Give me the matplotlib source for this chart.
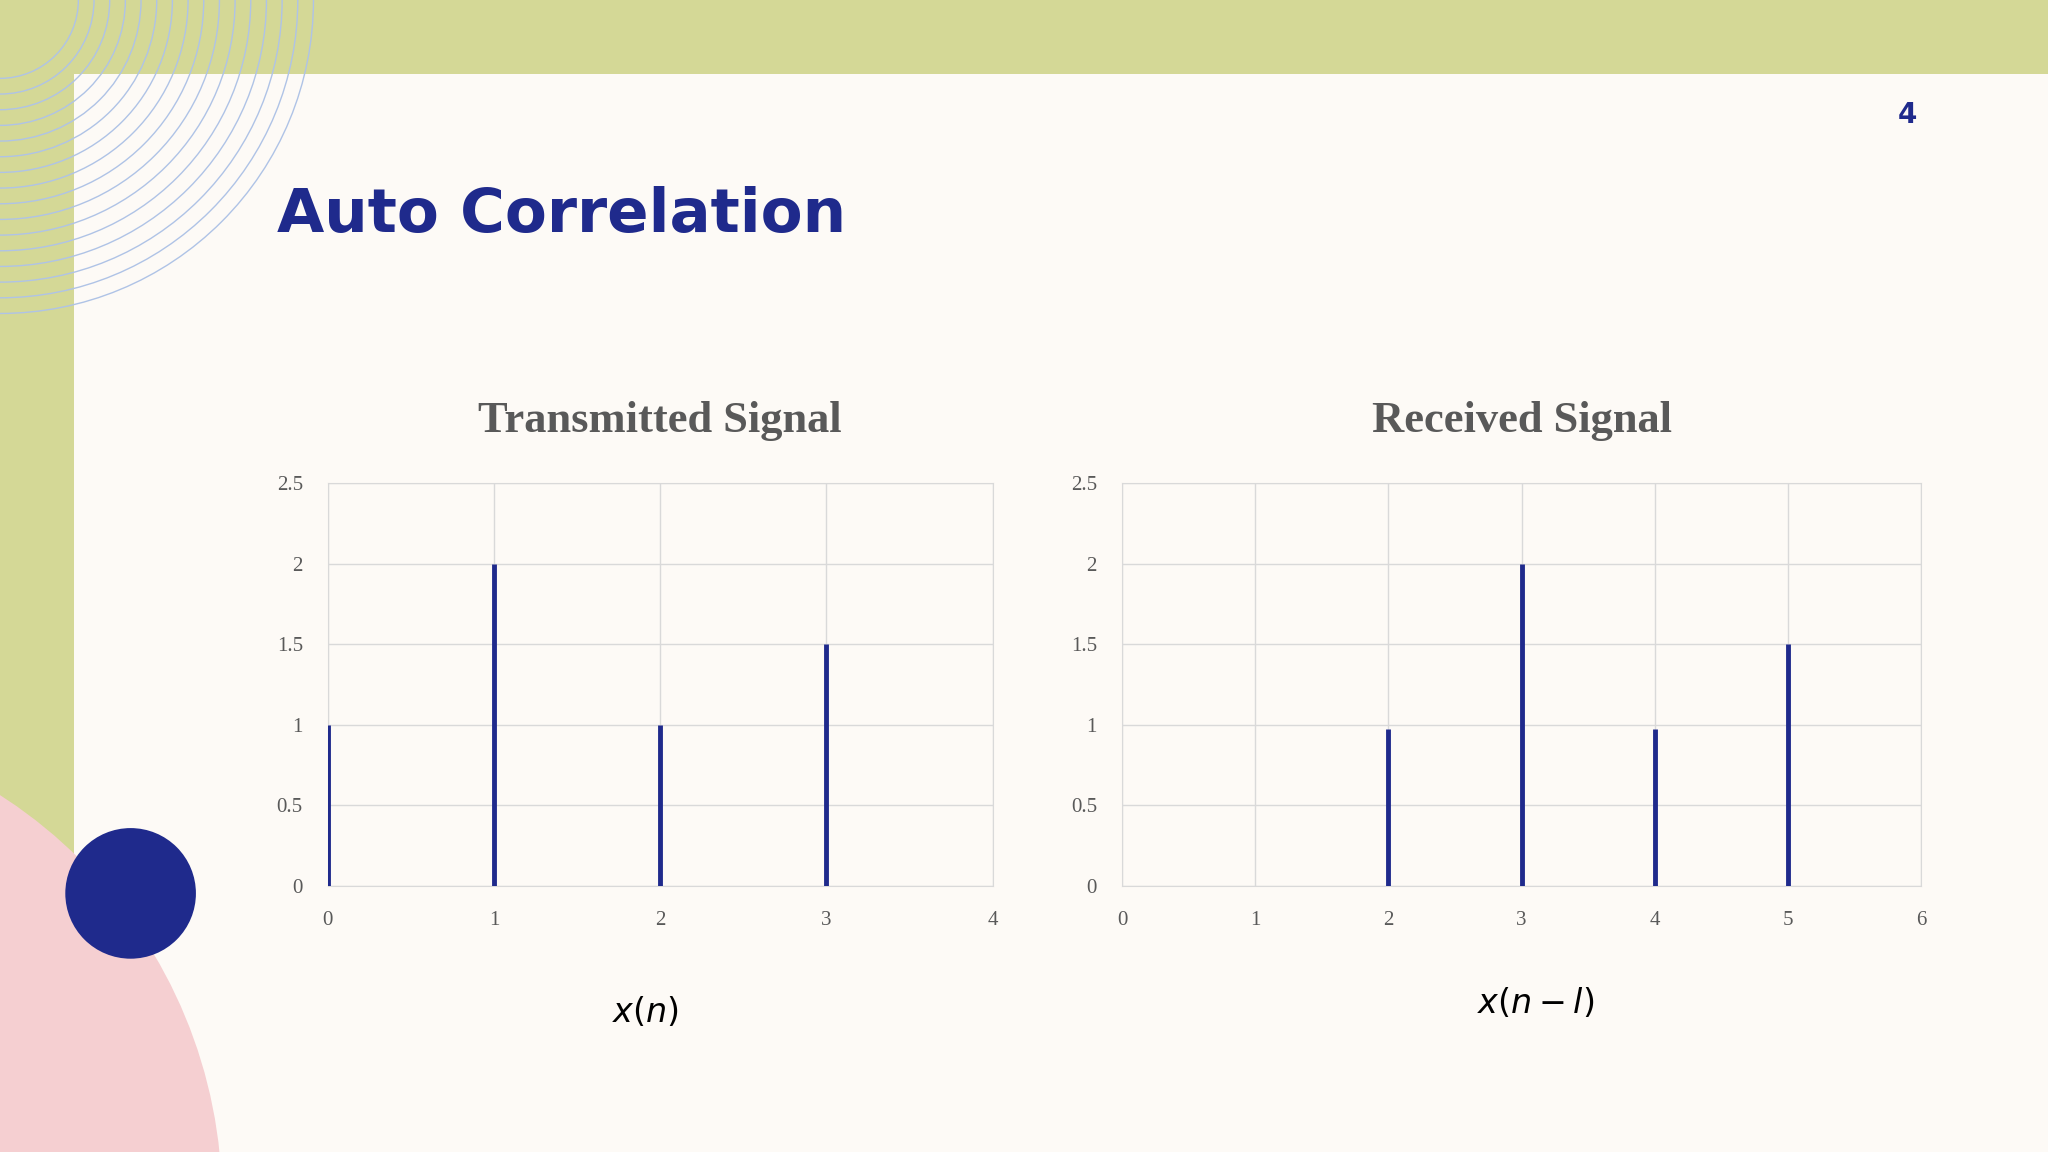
import numpy as np
import matplotlib.pyplot as plt
from matplotlib.patches import Rectangle, Circle

W, H = 1568.0, 882.0
NAVY = '#1F2A8C'
GREEN = '#D4D896'
CREAM = '#FDFAF6'
PINK = '#F5CFD1'

# data
tx_n = [0, 1, 2, 3]
tx_val = [1, 2, 1, 1.5]
rx_n = [2, 3, 4, 5]
rx_val = [0.97, 2, 0.97, 1.5]


def fx(x):
    return x / W


def fy(y):
    return 1 - y / H


fig = plt.figure(figsize=(20.48, 11.52), dpi=100)
fig.patch.set_facecolor(CREAM)

# background decoration in slide pixel coordinates
bg = fig.add_axes([0, 0, 1, 1])
bg.set_xlim(0, W)
bg.set_ylim(H, 0)
bg.axis('off')
bg.add_patch(Rectangle((0, 0), W, 57, color=GREEN, lw=0))
bg.add_patch(Rectangle((0, 0), 57, H, color=GREEN, lw=0))
bg.add_patch(Circle((-200, 920), 370, color=PINK, lw=0))
bg.add_patch(Circle((100, 684), 50, color=NAVY, lw=0))
for r in np.arange(60, 252, 12):
    bg.add_patch(Circle((0, 0), r, fill=False, ec='#AFC3E6', lw=1.0))
bg.set_aspect('auto')

fig.text(fx(212), fy(165), 'Auto Correlation', color=NAVY, fontsize=44,
         fontweight='bold', va='center', ha='left')
fig.text(fx(1460), fy(88), '4', color=NAVY, fontsize=20, fontweight='bold',
         va='center', ha='center')


def panel(x0, x1, xmax, n, vals, title, label, label_y):
    ax = fig.add_axes([fx(x0), fy(678), fx(x1 - x0), (678 - 370) / H])
    ax.set_facecolor(CREAM)
    ax.vlines(n, 0, vals, color=NAVY, lw=3.5, zorder=3)
    ax.set_xlim(0, xmax)
    ax.set_ylim(0, 2.5)
    ax.set_xticks(range(0, xmax + 1))
    ax.set_yticks([0, 0.5, 1, 1.5, 2, 2.5])
    ax.set_yticklabels(['0', '0.5', '1', '1.5', '2', '2.5'])
    ax.grid(True, color='#D9D9D9', lw=1)
    ax.set_axisbelow(True)
    for s in ax.spines.values():
        s.set_color('#D9D9D9')
    ax.tick_params(length=0, labelsize=15, colors='#595959', pad=18)
    for t in ax.get_xticklabels() + ax.get_yticklabels():
        t.set_family('Liberation Serif')
    fig.text(fx((x0 + x1) / 2), fy(322), title, family='Liberation Serif',
             fontsize=32, fontweight='bold', color='#595959',
             ha='center', va='center')
    fig.text(fx(label[1]), fy(label_y), label[0], fontsize=24,
             ha='center', va='center')
    return ax


panel(251, 760, 4, tx_n, tx_val, 'Transmitted Signal', ('$x(n)$', 494), 775)
panel(859, 1471, 6, rx_n, rx_val, 'Received Signal', ('$x(n-l)$', 1176), 768)

fig.savefig('out.png', dpi=100, facecolor=CREAM)
